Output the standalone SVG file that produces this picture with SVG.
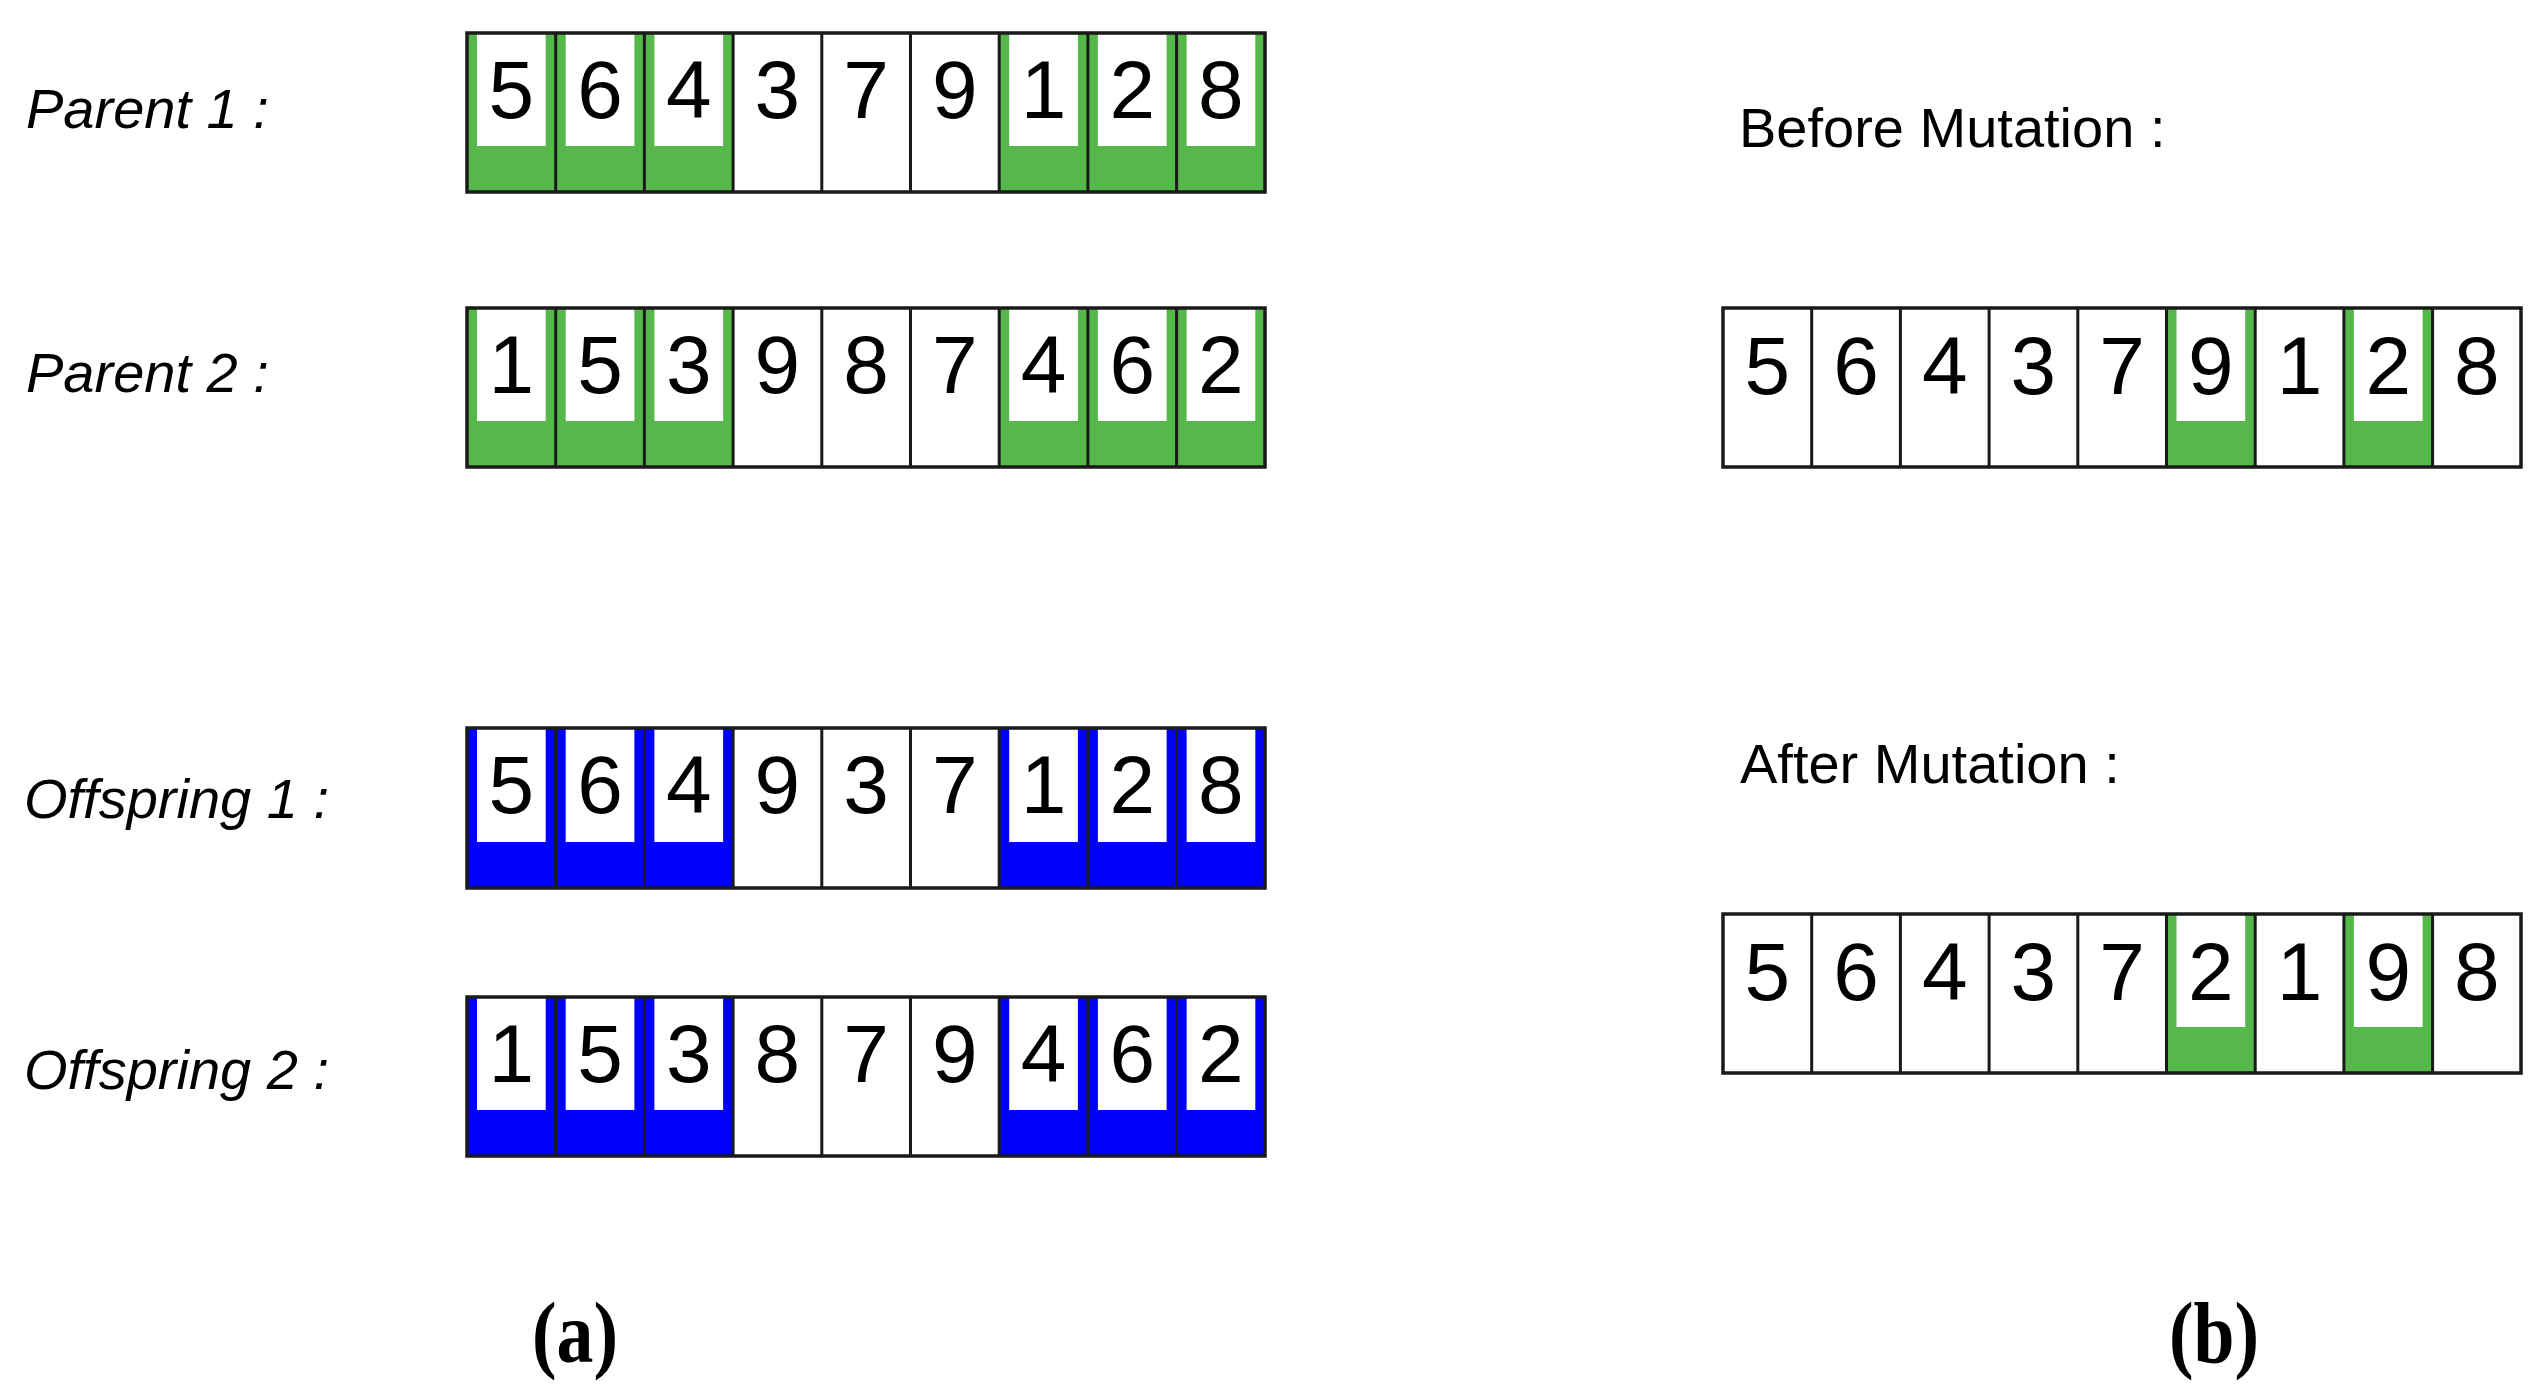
<svg xmlns="http://www.w3.org/2000/svg" width="2541" height="1396" viewBox="0 0 2541 1396">
<style>
.bg{fill:#ffffff}
.frame{fill:none;stroke:#1a1a1a;stroke-width:3.5}
.div{stroke:#1a1a1a;stroke-width:3}
.g{fill:#56b84a}
.b{fill:#0000ff}
.w{fill:#ffffff}
.d{font-family:"Liberation Sans",Arial,sans-serif;font-size:82px;fill:#000;text-anchor:middle}
.lab{font-family:"Liberation Sans",Arial,sans-serif;font-size:56px;fill:#000}
.it{font-style:italic}
.cap{font-family:"Liberation Serif","Times New Roman",serif;font-size:86px;font-weight:bold;fill:#000}
</style>
<rect class="bg" x="0" y="0" width="2541" height="1396"/>

<g id="label-parent1"><text class="lab it" x="26" y="128">Parent 1 :</text></g>
<g id="label-parent2"><text class="lab it" x="26" y="392">Parent 2 :</text></g>
<g id="label-offspring1"><text class="lab it" x="24" y="818">Offspring 1 :</text></g>
<g id="label-offspring2"><text class="lab it" x="24" y="1089">Offspring 2 :</text></g>
<g id="label-before"><text class="lab" x="1739" y="147">Before Mutation :</text></g>
<g id="label-after"><text class="lab" x="1740" y="783">After Mutation :</text></g>

<!-- Parent 1 -->
<g id="parent1">
<rect class="g" x="467" y="33" width="88.7" height="159"/><rect class="w" x="477" y="33" width="68.7" height="113"/>
<rect class="g" x="555.7" y="33" width="88.7" height="159"/><rect class="w" x="565.7" y="33" width="68.7" height="113"/>
<rect class="g" x="644.4" y="33" width="88.7" height="159"/><rect class="w" x="654.4" y="33" width="68.7" height="113"/>
<rect class="g" x="999.2" y="33" width="88.7" height="159"/><rect class="w" x="1009.2" y="33" width="68.7" height="113"/>
<rect class="g" x="1087.9" y="33" width="88.7" height="159"/><rect class="w" x="1097.9" y="33" width="68.7" height="113"/>
<rect class="g" x="1176.6" y="33" width="88.7" height="159"/><rect class="w" x="1186.6" y="33" width="68.7" height="113"/>
<rect class="frame" x="467" y="33" width="798" height="159"/>
<path class="div" d="M555.7 33V192M644.4 33V192M733.1 33V192M821.8 33V192M910.5 33V192M999.2 33V192M1087.9 33V192M1176.6 33V192"/>
<text class="d" x="511.3" y="118">5</text><text class="d" x="600" y="118">6</text><text class="d" x="688.7" y="118">4</text><text class="d" x="777.4" y="118">3</text><text class="d" x="866.1" y="118">7</text><text class="d" x="954.8" y="118">9</text><text class="d" x="1043.5" y="118">1</text><text class="d" x="1132.2" y="118">2</text><text class="d" x="1220.9" y="118">8</text>
</g>

<!-- Parent 2 -->
<g id="parent2">
<rect class="g" x="467" y="308" width="88.7" height="159"/><rect class="w" x="477" y="308" width="68.7" height="113"/>
<rect class="g" x="555.7" y="308" width="88.7" height="159"/><rect class="w" x="565.7" y="308" width="68.7" height="113"/>
<rect class="g" x="644.4" y="308" width="88.7" height="159"/><rect class="w" x="654.4" y="308" width="68.7" height="113"/>
<rect class="g" x="999.2" y="308" width="88.7" height="159"/><rect class="w" x="1009.2" y="308" width="68.7" height="113"/>
<rect class="g" x="1087.9" y="308" width="88.7" height="159"/><rect class="w" x="1097.9" y="308" width="68.7" height="113"/>
<rect class="g" x="1176.6" y="308" width="88.7" height="159"/><rect class="w" x="1186.6" y="308" width="68.7" height="113"/>
<rect class="frame" x="467" y="308" width="798" height="159"/>
<path class="div" d="M555.7 308V467M644.4 308V467M733.1 308V467M821.8 308V467M910.5 308V467M999.2 308V467M1087.9 308V467M1176.6 308V467"/>
<text class="d" x="511.3" y="393">1</text><text class="d" x="600" y="393">5</text><text class="d" x="688.7" y="393">3</text><text class="d" x="777.4" y="393">9</text><text class="d" x="866.1" y="393">8</text><text class="d" x="954.8" y="393">7</text><text class="d" x="1043.5" y="393">4</text><text class="d" x="1132.2" y="393">6</text><text class="d" x="1220.9" y="393">2</text>
</g>

<!-- Offspring 1 -->
<g id="offspring1">
<rect class="b" x="467" y="728" width="88.7" height="160"/><rect class="w" x="477" y="728" width="68.7" height="114"/>
<rect class="b" x="555.7" y="728" width="88.7" height="160"/><rect class="w" x="565.7" y="728" width="68.7" height="114"/>
<rect class="b" x="644.4" y="728" width="88.7" height="160"/><rect class="w" x="654.4" y="728" width="68.7" height="114"/>
<rect class="b" x="999.2" y="728" width="88.7" height="160"/><rect class="w" x="1009.2" y="728" width="68.7" height="114"/>
<rect class="b" x="1087.9" y="728" width="88.7" height="160"/><rect class="w" x="1097.9" y="728" width="68.7" height="114"/>
<rect class="b" x="1176.6" y="728" width="88.7" height="160"/><rect class="w" x="1186.6" y="728" width="68.7" height="114"/>
<rect class="frame" x="467" y="728" width="798" height="160"/>
<path class="div" d="M555.7 728V888M644.4 728V888M733.1 728V888M821.8 728V888M910.5 728V888M999.2 728V888M1087.9 728V888M1176.6 728V888"/>
<text class="d" x="511.3" y="813">5</text><text class="d" x="600" y="813">6</text><text class="d" x="688.7" y="813">4</text><text class="d" x="777.4" y="813">9</text><text class="d" x="866.1" y="813">3</text><text class="d" x="954.8" y="813">7</text><text class="d" x="1043.5" y="813">1</text><text class="d" x="1132.2" y="813">2</text><text class="d" x="1220.9" y="813">8</text>
</g>

<!-- Offspring 2 -->
<g id="offspring2">
<rect class="b" x="467" y="997" width="88.7" height="159"/><rect class="w" x="477" y="997" width="68.7" height="113"/>
<rect class="b" x="555.7" y="997" width="88.7" height="159"/><rect class="w" x="565.7" y="997" width="68.7" height="113"/>
<rect class="b" x="644.4" y="997" width="88.7" height="159"/><rect class="w" x="654.4" y="997" width="68.7" height="113"/>
<rect class="b" x="999.2" y="997" width="88.7" height="159"/><rect class="w" x="1009.2" y="997" width="68.7" height="113"/>
<rect class="b" x="1087.9" y="997" width="88.7" height="159"/><rect class="w" x="1097.9" y="997" width="68.7" height="113"/>
<rect class="b" x="1176.6" y="997" width="88.7" height="159"/><rect class="w" x="1186.6" y="997" width="68.7" height="113"/>
<rect class="frame" x="467" y="997" width="798" height="159"/>
<path class="div" d="M555.7 997V1156M644.4 997V1156M733.1 997V1156M821.8 997V1156M910.5 997V1156M999.2 997V1156M1087.9 997V1156M1176.6 997V1156"/>
<text class="d" x="511.3" y="1082">1</text><text class="d" x="600" y="1082">5</text><text class="d" x="688.7" y="1082">3</text><text class="d" x="777.4" y="1082">8</text><text class="d" x="866.1" y="1082">7</text><text class="d" x="954.8" y="1082">9</text><text class="d" x="1043.5" y="1082">4</text><text class="d" x="1132.2" y="1082">6</text><text class="d" x="1220.9" y="1082">2</text>
</g>

<!-- Before mutation -->
<g id="before-mutation">
<rect class="g" x="2166.5" y="308" width="88.7" height="159"/><rect class="w" x="2176.5" y="308" width="68.7" height="113"/>
<rect class="g" x="2343.9" y="308" width="88.7" height="159"/><rect class="w" x="2353.9" y="308" width="68.7" height="113"/>
<rect class="frame" x="1723" y="308" width="798" height="159"/>
<path class="div" d="M1811.7 308V467M1900.4 308V467M1989.1 308V467M2077.8 308V467M2166.5 308V467M2255.2 308V467M2343.9 308V467M2432.6 308V467"/>
<text class="d" x="1767.3" y="394">5</text><text class="d" x="1856" y="394">6</text><text class="d" x="1944.7" y="394">4</text><text class="d" x="2033.4" y="394">3</text><text class="d" x="2122.1" y="394">7</text><text class="d" x="2210.8" y="394">9</text><text class="d" x="2299.5" y="394">1</text><text class="d" x="2388.2" y="394">2</text><text class="d" x="2476.9" y="394">8</text>
</g>

<!-- After mutation -->
<g id="after-mutation">
<rect class="g" x="2166.5" y="914" width="88.7" height="159"/><rect class="w" x="2176.5" y="914" width="68.7" height="113"/>
<rect class="g" x="2343.9" y="914" width="88.7" height="159"/><rect class="w" x="2353.9" y="914" width="68.7" height="113"/>
<rect class="frame" x="1723" y="914" width="798" height="159"/>
<path class="div" d="M1811.7 914V1073M1900.4 914V1073M1989.1 914V1073M2077.8 914V1073M2166.5 914V1073M2255.2 914V1073M2343.9 914V1073M2432.6 914V1073"/>
<text class="d" x="1767.3" y="1000">5</text><text class="d" x="1856" y="1000">6</text><text class="d" x="1944.7" y="1000">4</text><text class="d" x="2033.4" y="1000">3</text><text class="d" x="2122.1" y="1000">7</text><text class="d" x="2210.8" y="1000">2</text><text class="d" x="2299.5" y="1000">1</text><text class="d" x="2388.2" y="1000">9</text><text class="d" x="2476.9" y="1000">8</text>
</g>

<g id="caption-a"><text class="cap" x="532" y="1362" textLength="86" lengthAdjust="spacingAndGlyphs">(a)</text></g>
<g id="caption-b"><text class="cap" x="2169" y="1362" textLength="90" lengthAdjust="spacingAndGlyphs">(b)</text></g>
</svg>
